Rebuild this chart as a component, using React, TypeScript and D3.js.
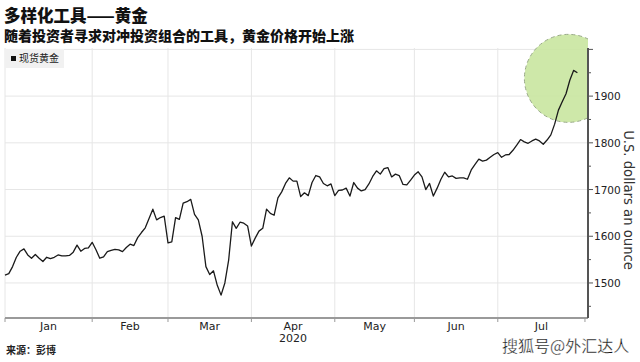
import React from "react";
import * as d3 from "d3";

const title = "多样化工具——黄金";
const subtitle = "随着投资者寻求对冲投资组合的工具，黄金价格开始上涨";
const legendLabel = "现货黄金";
const sourceText = "来源：彭博";
const watermark = "搜狐号@外汇达人";
const yAxisTitle = "U.S. dollars an ounce";

const dates = [
  "2020-01-01","2020-01-02","2020-01-03","2020-01-06","2020-01-07","2020-01-08","2020-01-09","2020-01-10",
  "2020-01-13","2020-01-14","2020-01-15","2020-01-16","2020-01-17","2020-01-20","2020-01-21","2020-01-22",
  "2020-01-23","2020-01-24","2020-01-27","2020-01-28","2020-01-29","2020-01-30","2020-01-31",
  "2020-02-03","2020-02-04","2020-02-05","2020-02-06","2020-02-07","2020-02-10","2020-02-11","2020-02-12",
  "2020-02-13","2020-02-14","2020-02-17","2020-02-18","2020-02-19","2020-02-20","2020-02-21","2020-02-24",
  "2020-02-25","2020-02-26","2020-02-27","2020-02-28",
  "2020-03-02","2020-03-03","2020-03-04","2020-03-05","2020-03-06","2020-03-09","2020-03-10","2020-03-11",
  "2020-03-12","2020-03-13","2020-03-16","2020-03-17","2020-03-18","2020-03-19","2020-03-20","2020-03-23",
  "2020-03-24","2020-03-25","2020-03-26","2020-03-27","2020-03-30","2020-03-31",
  "2020-04-01","2020-04-02","2020-04-03","2020-04-06","2020-04-07","2020-04-08","2020-04-09","2020-04-10",
  "2020-04-13","2020-04-14","2020-04-15","2020-04-16","2020-04-17","2020-04-20","2020-04-21","2020-04-22",
  "2020-04-23","2020-04-24","2020-04-27","2020-04-28","2020-04-29","2020-04-30",
  "2020-05-01","2020-05-04","2020-05-05","2020-05-06","2020-05-07","2020-05-08","2020-05-11","2020-05-12",
  "2020-05-13","2020-05-14","2020-05-15","2020-05-18","2020-05-19","2020-05-20","2020-05-21","2020-05-22",
  "2020-05-25","2020-05-26","2020-05-27","2020-05-28","2020-05-29",
  "2020-06-01","2020-06-02","2020-06-03","2020-06-04","2020-06-05","2020-06-08","2020-06-09","2020-06-10",
  "2020-06-11","2020-06-12","2020-06-15","2020-06-16","2020-06-17","2020-06-18","2020-06-19","2020-06-22",
  "2020-06-23","2020-06-24","2020-06-25","2020-06-26","2020-06-29","2020-06-30",
  "2020-07-01","2020-07-02","2020-07-03","2020-07-06","2020-07-07","2020-07-08","2020-07-09","2020-07-10",
  "2020-07-13","2020-07-14","2020-07-15","2020-07-16","2020-07-17","2020-07-20","2020-07-21","2020-07-22",
  "2020-07-23","2020-07-24","2020-07-27","2020-07-28","2020-07-29","2020-07-30",
];

const prices = [
  1517, 1520, 1535, 1555, 1568, 1573, 1560, 1553, 1561, 1553, 1546, 1555, 1552, 1555, 1560, 1558,
  1558, 1559, 1566, 1581, 1568, 1574, 1575,
  1587, 1571, 1553, 1556, 1567, 1570, 1572, 1571, 1567, 1576, 1583, 1580, 1597, 1608, 1618, 1638,
  1658, 1635, 1640, 1643,
  1586, 1588, 1640, 1636, 1671, 1674, 1679, 1647, 1635, 1600, 1535, 1518, 1526, 1495, 1474, 1500,
  1549, 1631, 1617, 1630, 1628, 1622,
  1579, 1596, 1611, 1617, 1658, 1649, 1645, 1682, 1695, 1713, 1725, 1718, 1718, 1685, 1693, 1687,
  1715, 1730, 1727, 1713, 1708, 1712,
  1687, 1698, 1699, 1703, 1686, 1715, 1703, 1697, 1700, 1712, 1728, 1740, 1733, 1745, 1747, 1727,
  1733, 1730, 1711, 1710, 1720,
  1731, 1738, 1727, 1700, 1713, 1686, 1703, 1722, 1737, 1727, 1729, 1724, 1725, 1725, 1722, 1742,
  1754, 1765, 1761, 1763, 1769, 1775,
  1779, 1769, 1774, 1775, 1784, 1795, 1807, 1802, 1799, 1804, 1808, 1804, 1797, 1806, 1817, 1840,
  1870, 1888, 1905, 1934, 1955, 1950,
];

const monthLabels = ["Jan", "Feb", "Mar", "Apr", "May", "Jun", "Jul"];
const monthStarts = ["2020-01-01", "2020-02-03", "2020-03-02", "2020-04-01", "2020-05-01", "2020-06-01", "2020-07-01", "2020-08-03"];
const yearLabel = "2020";
const yMajorTicks = [1500, 1600, 1700, 1800, 1900];
const yMinorTicks = [1450, 1550, 1650, 1750, 1850, 1950];
const yTopTick = 2000;
const highlightCenterValue = 1938;

const parse = d3.timeParse("%Y-%m-%d");
const origin = parse("2020-01-01") as Date;
function weekdayIndex(d: Date): number {
  return d3.timeDay.range(origin, d).filter((x) => x.getDay() !== 0 && x.getDay() !== 6).length;
}

export default function App() {
  const W = 640, H = 362;
  const left = 5, right = 588, top = 48, bottom = 318;
  const x = d3.scaleLinear().domain([0, 153.8]).range([left, right]);
  const y = d3.scaleLinear().domain([1425, 2003]).range([bottom, top]);

  const pts = dates.map((s, i) => ({ i: weekdayIndex(parse(s) as Date), v: prices[i] }));
  const line = d3.line<{ i: number; v: number }>().x((d) => x(d.i)).y((d) => y(d.v));
  const monthX = monthStarts.map((s) => x(weekdayIndex(parse(s) as Date)));

  const cx = x(pts[pts.length - 1].i) - 9;
  const cy = y(highlightCenterValue);
  const r = 44;

  const font = "'DejaVu Sans', Verdana, sans-serif";
  const cjk = "'Noto Sans CJK SC', sans-serif";

  return (
    <svg width={W} height={H} style={{ position: "absolute", left: 0, top: 0, background: "#fff" }}>
      <defs>
        <clipPath id="circClip">
          <rect x={0} y={0} width={right} height={H} />
        </clipPath>
      </defs>
      <rect x={0} y={0} width={W} height={H} fill="#fff" />
      <text x={4} y={22} fontFamily={cjk} fontWeight={900} fontSize={16.5} fill="#111">{title}</text>
      <text x={4} y={41} fontFamily={cjk} fontWeight={900} fontSize={14} fill="#111">{subtitle}</text>

      {yMajorTicks.concat([yTopTick]).map((t) => (
        <line key={"h" + t} x1={left} x2={right} y1={y(t)} y2={y(t)} stroke="#e6e6e6" strokeWidth={1} />
      ))}
      {monthX.slice(0, 7).map((mx, k) => (
        <line key={"v" + k} x1={mx} x2={mx} y1={top} y2={bottom} stroke="#e6e6e6" strokeWidth={1} />
      ))}

      <rect x={5} y={49} width={59} height={19} fill="#f1f1f1" />
      <rect x={11} y={56} width={5} height={5} fill="#111" />
      <text x={19} y={62} fontFamily={cjk} fontSize={10} fill="#222">{legendLabel}</text>

      <g clipPath="url(#circClip)">
        <circle cx={cx} cy={cy} r={r} fill="#c9e6a0" fillOpacity={0.9} stroke="#9aaa8a" strokeWidth={1} strokeDasharray="4,3" />
      </g>

      <path d={line(pts) || ""} fill="none" stroke="#1a1a1a" strokeWidth={1.3} strokeLinejoin="round" />

      <line x1={left} x2={right} y1={bottom} y2={bottom} stroke="#9a9a9a" strokeWidth={2} />
      {monthX.map((mx, k) => (
        <line key={"bt" + k} x1={mx} x2={mx} y1={bottom} y2={bottom + 4} stroke="#9a9a9a" strokeWidth={1} />
      ))}
      {monthLabels.map((m, k) => (
        <text key={m} x={(monthX[k] + monthX[k + 1]) / 2} y={330} textAnchor="middle" fontFamily={font} fontSize={11} fill="#222">{m}</text>
      ))}
      <text x={(monthX[3] + monthX[4]) / 2} y={342} textAnchor="middle" fontFamily={font} fontSize={11} fill="#222">{yearLabel}</text>

      <line x1={right} x2={right} y1={top} y2={bottom} stroke="#555" strokeWidth={2} />
      {yMajorTicks.map((t) => (
        <g key={"yt" + t}>
          <line x1={right} x2={right + 5} y1={y(t)} y2={y(t)} stroke="#555" strokeWidth={1} />
          <text x={right + 6} y={y(t) + 4} fontFamily={font} fontSize={10.5} fill="#222">{t}</text>
        </g>
      ))}
      <line x1={right} x2={right + 5} y1={y(yTopTick)} y2={y(yTopTick)} stroke="#555" strokeWidth={1} />
      {yMinorTicks.map((t) => (
        <line key={"ym" + t} x1={right} x2={right + 3} y1={y(t)} y2={y(t)} stroke="#555" strokeWidth={1} />
      ))}
      <text transform="translate(624, 200) rotate(90)" textAnchor="middle" fontFamily={font} fontSize={13.2} fill="#333">{yAxisTitle}</text>

      <text x={6} y={354} fontFamily={cjk} fontWeight={700} fontSize={10} fill="#222">{sourceText}</text>
      <text x={502} y={352} fontFamily={cjk} fontSize={16} fill="#111" stroke="#fff" strokeWidth={0.3}>{watermark}</text>
    </svg>
  );
}
